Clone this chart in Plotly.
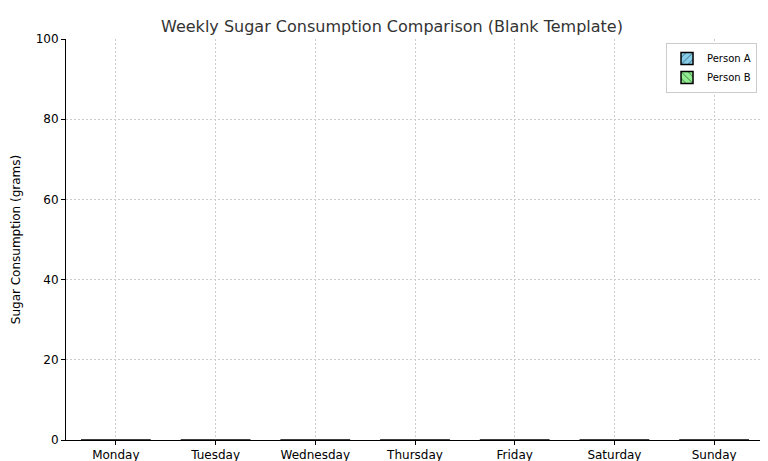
import plotly.graph_objects as go

days = ["Monday", "Tuesday", "Wednesday", "Thursday", "Friday", "Saturday", "Sunday"]
person_a = [0, 0, 0, 0, 0, 0, 0]
person_b = [0, 0, 0, 0, 0, 0, 0]

fig = go.Figure()
fig.add_trace(go.Bar(x=days, y=person_a, name="Person A",
                     marker=dict(color="skyblue", line=dict(color="black", width=1.5),
                                 pattern=dict(shape="/", fgcolor="black", size=6))))
fig.add_trace(go.Bar(x=days, y=person_b, name="Person B",
                     marker=dict(color="lightgreen", line=dict(color="black", width=1.5),
                                 pattern=dict(shape="\\", fgcolor="black", size=6))))

fig.update_layout(
    width=768, height=461,
    margin=dict(l=58, r=12, t=31, b=29, autoexpand=False),
    barmode="group", bargap=0.3, bargroupgap=0,
    plot_bgcolor="white", paper_bgcolor="white",
    font=dict(family="DejaVu Sans", size=12, color="black"),
    title=dict(text="Weekly Sugar Consumption Comparison (Blank Template)",
               x=0.5, xanchor="center", y=0.96, yanchor="middle",
               font=dict(size=16, color="#333333")),
    legend=dict(x=0.99, y=0.99, xanchor="right", yanchor="top",
                bordercolor="#cccccc", borderwidth=1, bgcolor="white",
                font=dict(size=10), tracegroupgap=0),
)
fig.update_xaxes(showline=True, linecolor="black", mirror=False, automargin=False,
                 showgrid=True, gridcolor="#cccccc", griddash="2px,2px", gridwidth=0.7,
                 ticks="outside", ticklen=4, tickcolor="black")
fig.update_yaxes(range=[0, 100], dtick=20, showline=True, linecolor="black", automargin=False,
                 showgrid=True, gridcolor="#cccccc", griddash="2px,2px", gridwidth=0.7,
                 ticks="outside", ticklen=4, tickcolor="black", zeroline=False,
                 title=dict(text="Sugar Consumption (grams)", font=dict(size=12), standoff=12))

fig.write_html("out.html")
